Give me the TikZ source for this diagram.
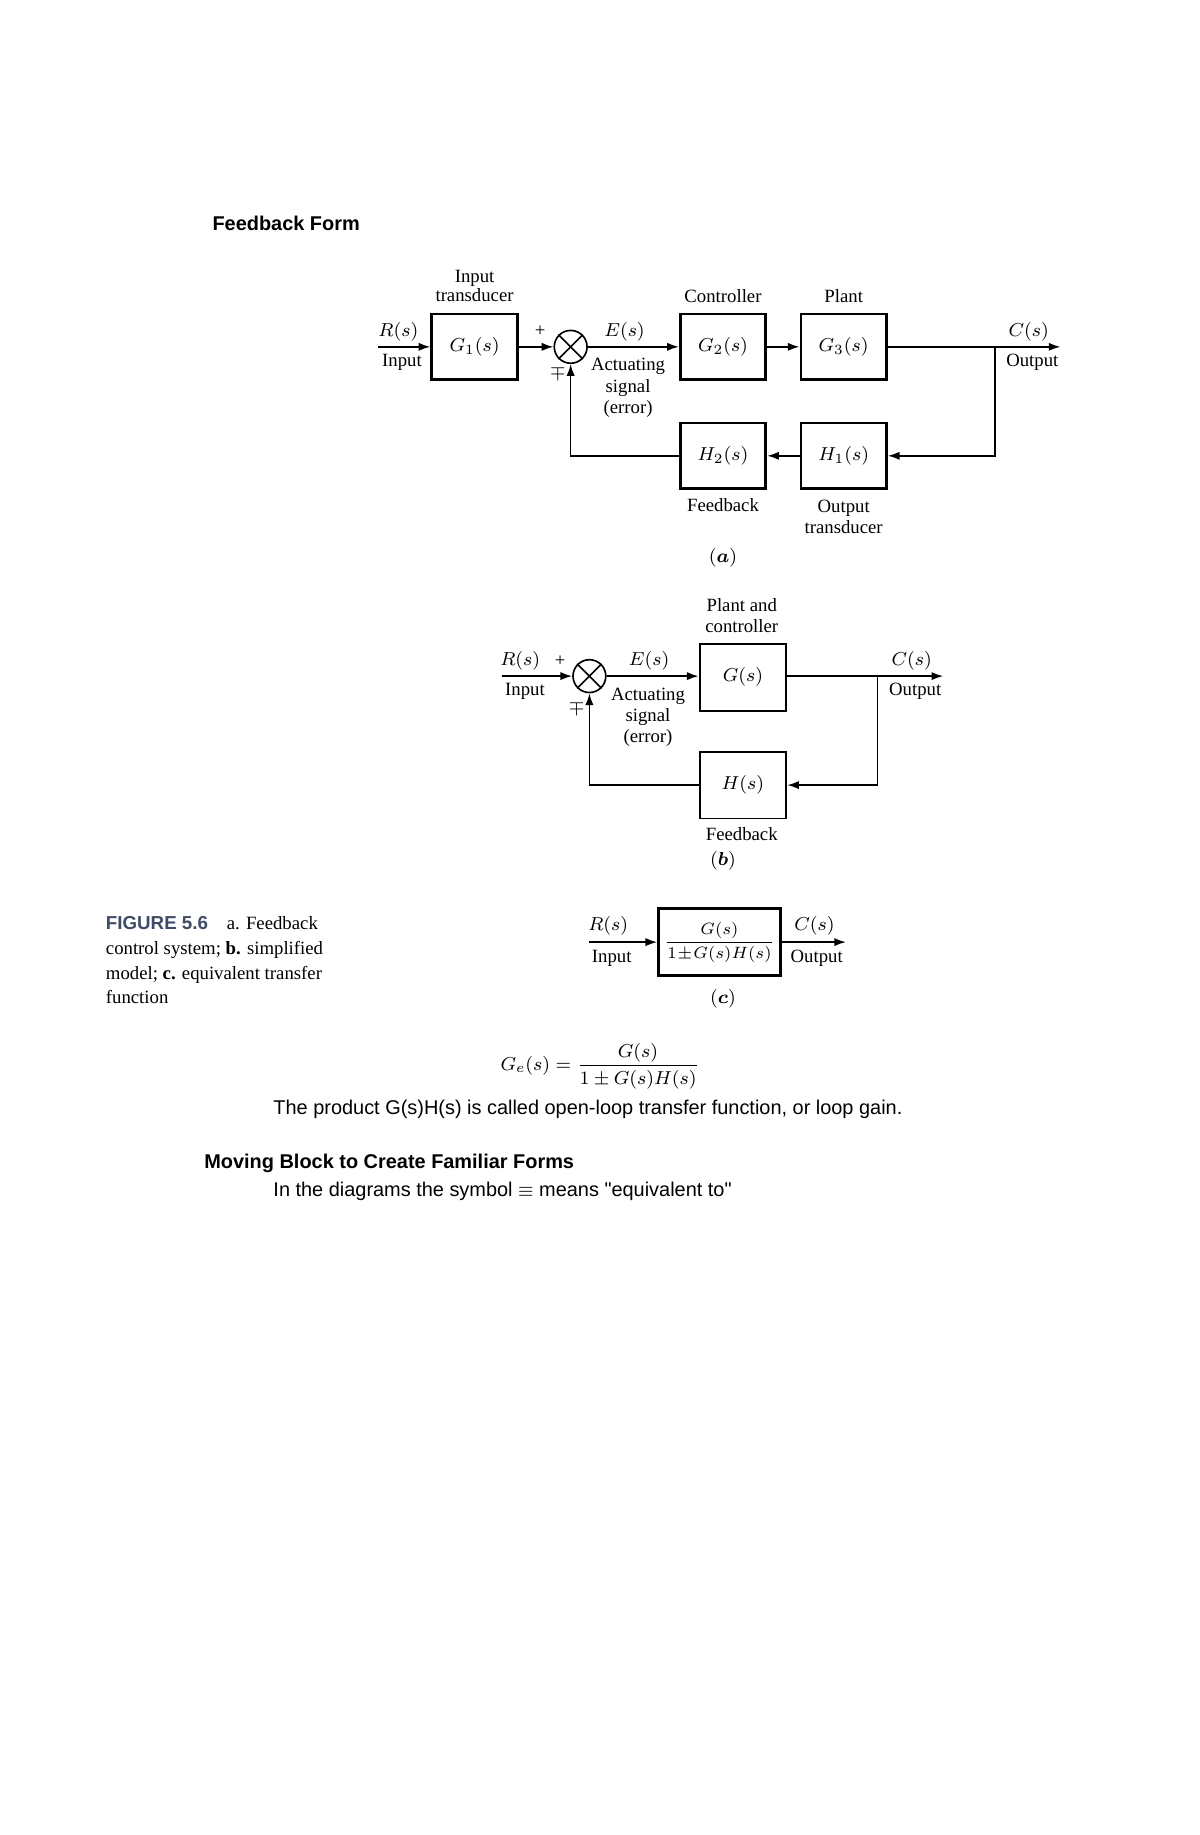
\documentclass[tikz,border=0pt]{standalone}
\usepackage{fontspec}
\usepackage{amsmath,amssymb}
\setmainfont{Liberation Serif}
\newfontfamily\sans{Liberation Sans}
\usetikzlibrary{arrows.meta}
\begin{document}
\begin{tikzpicture}[x=0.5pt,y=-0.5pt,
  blk/.style={draw,line width=1.2pt,minimum width=36.5pt,minimum height=28pt,inner sep=0pt,font=\fontsize{8}{9}\selectfont},
  blkb/.style={draw,line width=0.8pt,minimum width=37pt,minimum height=28.5pt,inner sep=0pt,font=\fontsize{8}{9}\selectfont},
  sum/.style={draw,circle,minimum size=14pt,inner sep=0pt,line width=0.7pt},
  lab/.style={font=\fontsize{8}{9}\selectfont,inner sep=0pt,align=center},
  ar/.style={-{Latex[length=5pt,width=3.5pt]},line width=0.7pt},
  ln/.style={line width=0.7pt},
  txt/.style={font=\sans\fontsize{8.5}{10}\selectfont,inner sep=0pt,anchor=west}]
\useasboundingbox[fill=white] (0,0) rectangle (1024,1566);
\node[txt,font=\sans\bfseries\fontsize{8.5}{10}\selectfont] (h1) at (181,191) {Feedback Form};
% ---- (a)
\coordinate (ain) at (323,296);
\node[blk] (g1) at (405,296) {$G_1(s)$};
\node[sum] (s1) at (487,296) {};
\draw[ln] (s1.north west)--(s1.south east) (s1.north east)--(s1.south west);
\node[blk] (g2) at (617,296) {$G_2(s)$};
\node[blk] (g3) at (720,296) {$G_3(s)$};
\node[blk] (h2) at (617,389) {$H_2(s)$};
\node[blk] (h1b) at (720,389) {$H_1(s)$};
\coordinate (aout) at (905,296);
\coordinate (atk) at (849,296);
\draw[ar] (ain)--(g1);
\draw[ar] (g1)--(s1);
\draw[ar] (s1)--(g2);
\draw[ar] (g2)--(g3);
\draw[ar] (g3)--(aout);
\draw[ar] (atk)|-(h1b);
\draw[ar] (h1b)--(h2);
\draw[ar] (h2)-|(s1);
\node[lab] (la1) at (340,283) {$R(s)$};
\node[lab] (la2) at (343,309) {Input};
\node[lab] (la3) at (405,244) {Input\\[-1pt]transducer};
\node[lab] (la4) at (461,283) {+};
\node[lab] (la5) at (476,318) {$\mp$};
\node[lab] (la6) at (533,283) {$E(s)$};
\node[lab] (la7) at (536,331) {Actuating\\signal\\(error)};
\node[lab] (la8) at (617,253) {Controller};
\node[lab] (la9) at (720,253) {Plant};
\node[lab] (la10) at (878,283) {$C(s)$};
\node[lab] (la11) at (881,309) {Output};
\node[lab] (la12) at (617,431) {Feedback};
\node[lab] (la13) at (720,441) {Output\\transducer};
\node[lab] (la14) at (617,476) {$(\boldsymbol{a})$};
% ---- (b)
\coordinate (bin) at (428,577);
\node[sum] (s2) at (503,577) {};
\draw[ln] (s2.north west)--(s2.south east) (s2.north east)--(s2.south west);
\node[blkb] (gb) at (634,578) {$G(s)$};
\node[blkb] (hb) at (634,670) {$H(s)$};
\coordinate (bout) at (805,577);
\coordinate (btk) at (749,577);
\draw[ar] (bin)--(s2);
\draw[ar] (s2)--(gb.west|-s2);
\draw[ln] (gb.east|-s2)--(btk);
\draw[ar] (btk)--(bout);
\draw[ar] (btk)|-(hb);
\draw[ar] (hb)-|(s2);
\node[lab] (lb1) at (444,564) {$R(s)$};
\node[lab] (lb2) at (448,590) {Input};
\node[lab] (lb3) at (478,564) {+};
\node[lab] (lb4) at (492,604) {$\mp$};
\node[lab] (lb5) at (554,564) {$E(s)$};
\node[lab] (lb6) at (553,612) {Actuating\\signal\\(error)};
\node[lab] (lb7) at (633,525) {Plant and\\controller};
\node[lab] (lb8) at (778,564) {$C(s)$};
\node[lab] (lb9) at (781,590) {Output};
\node[lab] (lb10) at (633,712) {Feedback};
\node[lab] (lb11) at (617,735) {$(\boldsymbol{b})$};
% ---- (c)
\coordinate (cin) at (503,804);
\coordinate (cout) at (722,804);
\node[draw,line width=1.2pt,minimum width=52pt,minimum height=28.5pt,inner sep=0pt,font=\fontsize{7.5}{9}\selectfont] (gc) at (614,804) {$\dfrac{G(s)}{1\!\pm\! G(s)H(s)}$};
\draw[ar] (cin)--(gc);
\draw[ar] (gc)--(cout);
\node[lab] (lc1) at (519,790) {$R(s)$};
\node[lab] (lc2) at (522,818) {Input};
\node[lab] (lc3) at (695,790) {$C(s)$};
\node[lab] (lc4) at (697,818) {Output};
\node[lab] (lc5) at (617,852) {$(\boldsymbol{c})$};
% caption
\node[anchor=north west,inner sep=0pt,align=left,font=\fontsize{8}{10.5}\selectfont] (cap) at (90,782)
 {{\sans\bfseries\color[rgb]{0.25,0.3,0.4}FIGURE 5.6}\quad a. Feedback\\control system; \textbf{b.} simplified\\model; \textbf{c.} equivalent transfer\\function};
% text
\node[lab,font=\fontsize{8.5}{10}\selectfont] (eq) at (512,910) {$G_e(s)=\dfrac{G(s)}{1\pm G(s)H(s)}$};
\node[txt] (t1) at (233,947) {The product G(s)H(s) is called open-loop transfer function, or loop gain.};
\node[txt,font=\sans\bfseries\fontsize{8.5}{10}\selectfont] (t2) at (174,993) {Moving Block to Create Familiar Forms};
\node[txt] (t3) at (233,1017) {In the diagrams the symbol $\equiv$ means "equivalent to"};
\end{tikzpicture}
\end{document}
